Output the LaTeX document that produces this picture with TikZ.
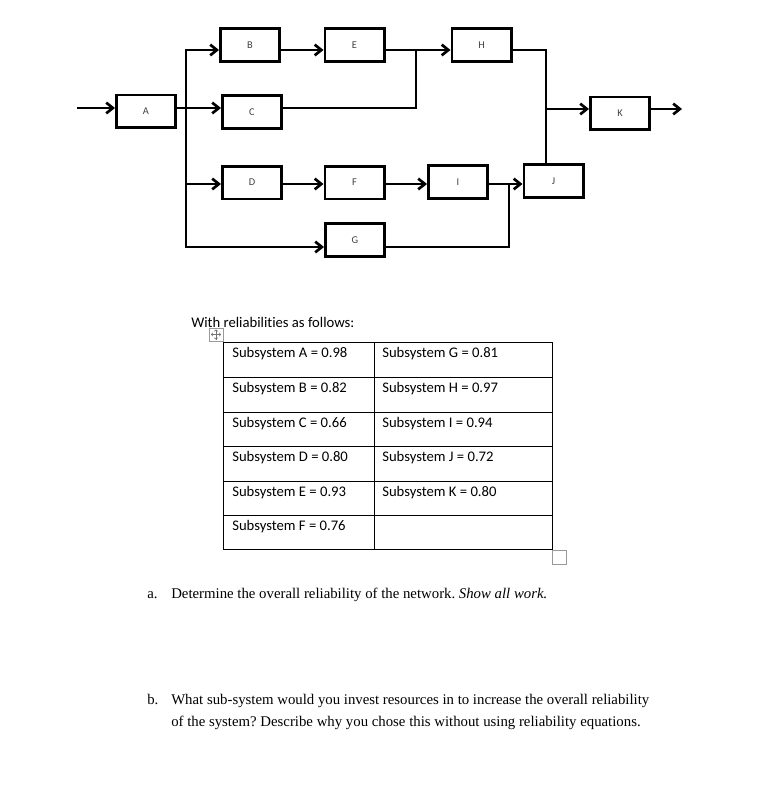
\documentclass[tikz,border=0pt]{standalone}
\usepackage{fontspec}
\setmainfont{Liberation Serif}
\newfontfamily\calfont{Carlito}[Ligatures=NoCommon]
\usetikzlibrary{arrows.meta}
\frenchspacing
\begin{document}
\begin{tikzpicture}[x=0.75pt,y=-0.75pt,
  blk/.style={draw=black, line width=2pt, minimum width=44.5pt, minimum height=24.5pt, inner sep=0pt, font=\calfont\fontsize{7.8}{9}\selectfont, text=black!75},
  wire/.style={line width=2pt},
  arr/.style={wire, -{Straight Barb[length=5pt,width=8pt]}},
  tline/.style={line width=0.75pt},
  celltxt/.style={anchor=base west, inner sep=0pt, font=\calfont\fontsize{11}{13}\selectfont},
  qtxt/.style={anchor=base west, inner sep=0pt, font=\fontsize{11.1}{13}\selectfont},
  gicon/.style={draw=black!40, line width=0.75pt}
]
\useasboundingbox (0,0) rectangle (766,788);
% blocks
\node[blk] (A) at (146,111.5) {A};
\node[blk] (B) at (250,45) {B};
\node[blk] (C) at (252,112) {C};
\node[blk] (D) at (252,182.5) {D};
\node[blk] (E) at (354.5,45) {E};
\node[blk] (F) at (354.5,182.5) {F};
\node[blk] (G) at (355,240) {G};
\node[blk] (H) at (481.5,45) {H};
\node[blk] (I) at (458,182) {I};
\node[blk] (J) at (553.5,181) {J};
\node[blk] (K) at (620,113.5) {K};
% junction points
\coordinate (in) at (77,108);
\coordinate (out) at (682,109);
\coordinate (t1) at (186,50);
\coordinate (t2) at (186,108);
\coordinate (t3) at (186,184);
\coordinate (t4) at (186,247);
\coordinate (m1) at (416,50);
\coordinate (m2) at (416,108);
\coordinate (g1) at (509,247);
\coordinate (g2) at (509,184);
\coordinate (h1) at (546,50);
\coordinate (h2) at (546,109);
% connectors
\draw[arr] (in) -- (A.west |- in);
\draw[arr] (A.east |- t2) -- (C.west |- t2);
\draw[arr] (t2) -- (t1) -- (B.west |- t1);
\draw[arr] (t2) -- (t4) -- (G.west |- t4);
\draw[arr] (t3) -- (D.west |- t3);
\draw[arr] (B.east |- t1) -- (E.west |- t1);
\draw[arr] (E.east |- m1) -- (H.west |- m1);
\draw[wire] (C.east |- m2) -- (m2) -- (m1);
\draw[arr] (D.east |- t3) -- (F.west |- t3);
\draw[arr] (F.east |- t3) -- (I.west |- t3);
\draw[arr] (I.east |- g2) -- (J.west |- g2);
\draw[wire] (G.east |- g1) -- (g1) -- (g2);
\draw[wire] (H.east |- h1) -- (h1) -- (h1 |- J.north);
\draw[arr] (h2) -- (K.west |- h2);
\draw[arr] (K.east |- out) -- (out);
% caption
\node[celltxt] (cap) at (191,327) {With reliabilities as follows:};
% move icon
\draw[gicon] (209,328) rectangle (223,341);
\draw[black!55, line width=0.5pt] (211,334.5) -- (221,334.5) (216,329.5) -- (216,339.5);
\draw[black!55, line width=0.5pt, -{Straight Barb[length=1pt,width=2.5pt]}] (216,334.5) -- (211,334.5);
\draw[black!55, line width=0.5pt, -{Straight Barb[length=1pt,width=2.5pt]}] (216,334.5) -- (221,334.5);
\draw[black!55, line width=0.5pt, -{Straight Barb[length=1pt,width=2.5pt]}] (216,334.5) -- (216,329.5);
\draw[black!55, line width=0.5pt, -{Straight Barb[length=1pt,width=2.5pt]}] (216,334.5) -- (216,339.5);
% table
\draw[tline] (223,342) rectangle (552,549);
\draw[tline] (374,342) -- (374,549);
\foreach \yy in {377,412,446,481,515} \draw[tline] (223,\yy) -- (552,\yy);
\node[celltxt] (a1) at (232,357) {Subsystem A = 0.98};
\node[celltxt] (b1) at (232,392) {Subsystem B = 0.82};
\node[celltxt] (c1) at (232,427) {Subsystem C = 0.66};
\node[celltxt] (d1) at (232,461) {Subsystem D = 0.80};
\node[celltxt] (e1) at (232,496) {Subsystem E = 0.93};
\node[celltxt] (f1) at (232,530) {Subsystem F = 0.76};
\node[celltxt] (g1t) at (382,357) {Subsystem G = 0.81};
\node[celltxt] (h1t) at (382,392) {Subsystem H = 0.97};
\node[celltxt] (i1t) at (382,427) {Subsystem I = 0.94};
\node[celltxt] (j1t) at (382,461) {Subsystem J = 0.72};
\node[celltxt] (k1t) at (382,496) {Subsystem K = 0.80};
% resize handle
\draw[gicon] (552,550) rectangle (566,564);
% questions
\node[qtxt] (qa) at (147,598) {a.};
\node[qtxt] (qat) at (171,598) {Determine the overall reliability of the network. \textit{Show all work.}};
\node[qtxt] (qb) at (147,704) {b.};
\node[qtxt] (qbt1) at (171,704) {What sub-system would you invest resources in to increase the overall reliability};
\node[qtxt] (qbt2) at (171,726) {of the system? Describe why you chose this without using reliability equations.};
\end{tikzpicture}
\end{document}
